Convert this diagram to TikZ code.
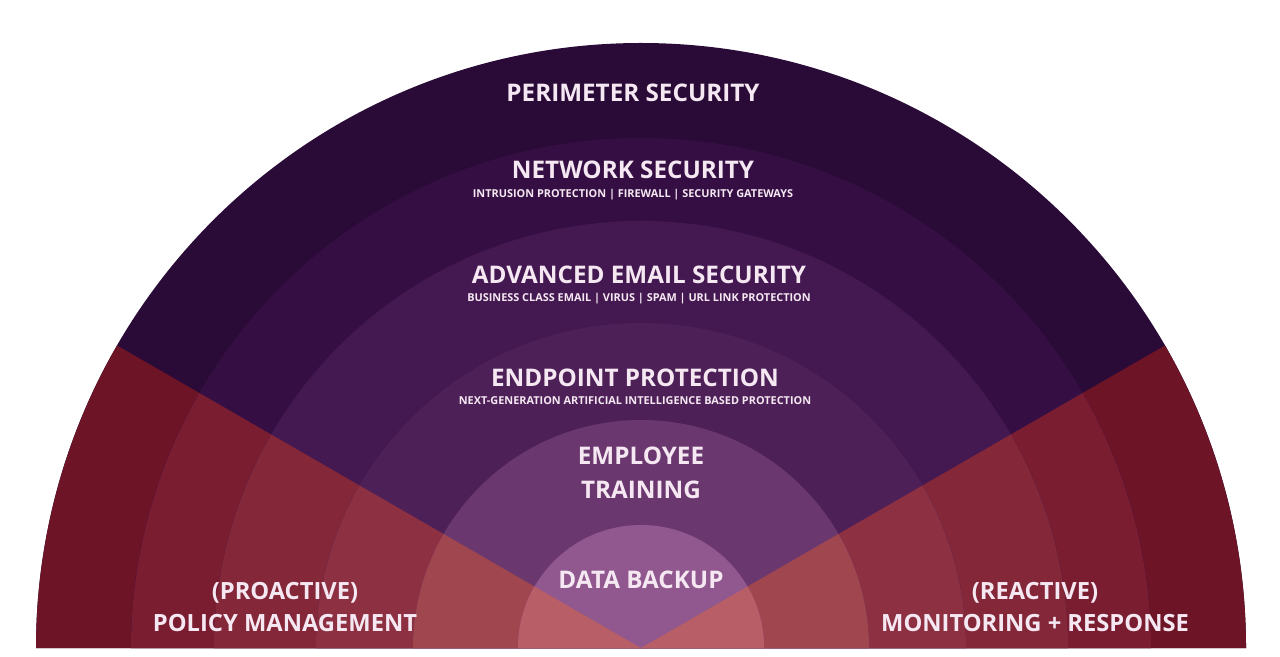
\documentclass[tikz,border=0pt]{standalone}
\usepackage{fontspec}
\setmainfont{Open Sans}
\usetikzlibrary{calc}
\begin{document}
\begin{tikzpicture}[x=0.02cm,y=0.02cm]
\useasboundingbox (0,0) rectangle (1280,656);
\definecolor{p1}{HTML}{2A0A36}\definecolor{p2}{HTML}{350F43}\definecolor{p3}{HTML}{441850}
\definecolor{p4}{HTML}{4E2058}\definecolor{p5}{HTML}{6A386F}\definecolor{p6}{HTML}{90588E}
\definecolor{r1}{HTML}{6E1427}\definecolor{r2}{HTML}{7A1D31}\definecolor{r3}{HTML}{842839}
\definecolor{r4}{HTML}{8C3042}\definecolor{r5}{HTML}{A0464F}\definecolor{r6}{HTML}{B85E66}
\definecolor{tx}{HTML}{F5E8F2}
\tikzset{big/.style={text=tx,font=\bfseries\fontsize{13.8}{16}\selectfont,align=center},
small/.style={text=tx,font=\bfseries\fontsize{6.2}{7}\selectfont},
lbl/.style={text=tx,font=\bfseries\fontsize{13.5}{18}\selectfont,align=center}}
\coordinate (c) at (641,8);
\foreach \r/\p/\q in {605/p1/r1,510/p2/r2,427/p3/r3,325/p4/r4,228/p5/r5,123/p6/r6}{
 \fill[\p] ($(c)+(\r,0)$) arc[start angle=0,end angle=180,radius=\r] -- cycle;
 \fill[\q] (c) -- ++(0:\r) arc[start angle=0,end angle=30,radius=\r] -- cycle;
 \fill[\q] (c) -- ++(150:\r) arc[start angle=150,end angle=180,radius=\r] -- cycle;
}
\node[big] (n1) at (633,563) {PERIMETER SECURITY};
\node[big] (n2) at (633,486) {NETWORK SECURITY};
\node[small] (s2) at (633,461) {INTRUSION PROTECTION | FIREWALL | SECURITY GATEWAYS};
\node[big] (n3) at (639,381) {ADVANCED EMAIL SECURITY};
\node[small] (s3) at (639,357) {BUSINESS CLASS EMAIL | VIRUS | SPAM | URL LINK PROTECTION};
\node[big] (n4) at (635,278) {ENDPOINT PROTECTION};
\node[small] (s4) at (635,255) {NEXT-GENERATION ARTIFICIAL INTELLIGENCE BASED PROTECTION};
\node[big] (n5) at (641,183) {EMPLOYEE\\[3pt]TRAINING};
\node[big] (n6) at (641,76) {DATA BACKUP};
\node[lbl] (l) at (285,49) {(PROACTIVE)\\POLICY MANAGEMENT};
\node[lbl] (r) at (1035,49) {(REACTIVE)\\MONITORING + RESPONSE};
\end{tikzpicture}
\end{document}
